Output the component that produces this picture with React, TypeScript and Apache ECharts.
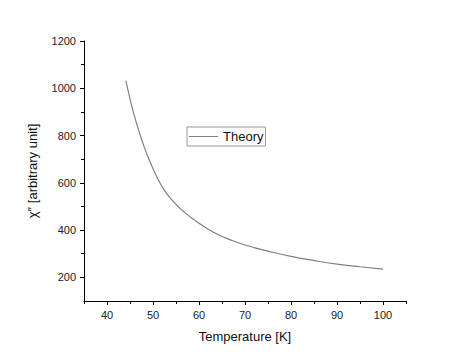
import React, { useEffect, useRef } from "react";
import * as echarts from "echarts";

const temperatures = [44.1, 45, 46, 47, 48, 49, 50, 51, 52, 53, 54, 55, 56, 57, 58, 60, 62, 64, 66, 68, 70, 72, 75, 80, 85, 90, 95, 100];
const chiValues = [1032, 955, 880, 815, 757, 705, 660, 618, 583, 554, 530, 509, 490, 473, 457, 429, 404, 383, 365, 350, 337, 326, 311, 289, 271, 256, 245, 235];
const xMajorTicks = [40, 50, 60, 70, 80, 90, 100];
const xMinorTicks = [35, 45, 55, 65, 75, 85, 95, 105];
const yMajorTicks = [200, 400, 600, 800, 1000, 1200];
const yMinorTicks = [300, 500, 700, 900, 1100];
const seriesName = "Theory";
const xTitle = "Temperature [K]";
const yTitle = "χ\u2033 [arbitrary unit]";

const FONT = "'Liberation Sans', Arial, Helvetica, sans-serif";

export default function App() {
  const ref = useRef<HTMLDivElement>(null);
  useEffect(() => {
    if (!ref.current) return;
    const chart = echarts.init(ref.current, null, { renderer: "svg" });
    const grid = { left: 84, right: 68, top: 41, bottom: 62 };
    chart.setOption({
      animation: false,
      backgroundColor: "#ffffff",
      textStyle: { fontFamily: FONT },
      grid,
      legend: {
        show: true,
        left: 187,
        top: 127,
        orient: "horizontal",
        padding: [3, 2, 3, 2],
        itemWidth: 29,
        itemHeight: 14,
        itemGap: 5,
        borderColor: "#999999",
        borderWidth: 1,
        data: [{ name: seriesName, icon: "path://M0,0 L29,0 L29,1 L0,1 Z" }],
        itemStyle: { color: "#808080" },
        textStyle: { fontSize: 13, color: "#111", fontFamily: FONT, padding: [0, 0, 0, 0] },
      },
      xAxis: [
        {
          type: "value",
          min: 35,
          max: 105,
          name: xTitle,
          nameLocation: "middle",
          nameGap: 29,
          nameTextStyle: { fontSize: 13, color: "#111", fontFamily: FONT },
          axisLine: { show: true, onZero: false, lineStyle: { color: "#000", width: 1 } },
          axisTick: { show: true, customValues: xMajorTicks, length: 4, inside: false, lineStyle: { color: "#000" } },
          axisLabel: {
            show: true,
            customValues: xMajorTicks,
            formatter: (v: number) => String(v),
            fontSize: 11,
            color: "#222",
            margin: 8,
            fontFamily: FONT,
          },
          splitLine: { show: false },
        },
        {
          type: "value",
          min: 35,
          max: 105,
          position: "bottom",
          axisLine: { show: false, onZero: false },
          axisTick: { show: true, customValues: xMinorTicks, length: 3, inside: false, lineStyle: { color: "#000" } },
          axisLabel: { show: false },
          splitLine: { show: false },
        },
      ],
      yAxis: [
        {
          type: "value",
          min: 100,
          max: 1200,
          name: yTitle,
          nameLocation: "middle",
          nameGap: 45,
          nameTextStyle: { fontSize: 13, color: "#111", fontFamily: FONT },
          axisLine: { show: true, onZero: false, lineStyle: { color: "#000", width: 1 } },
          axisTick: { show: true, customValues: yMajorTicks, length: 4, inside: false, lineStyle: { color: "#000" } },
          axisLabel: {
            show: true,
            customValues: yMajorTicks,
            formatter: (v: number) => String(v),
            fontSize: 11,
            color: "#222",
            margin: 8,
            fontFamily: FONT,
          },
          splitLine: { show: false },
        },
        {
          type: "value",
          min: 100,
          max: 1200,
          position: "left",
          axisLine: { show: false, onZero: false },
          axisTick: { show: true, customValues: yMinorTicks, length: 3, inside: false, lineStyle: { color: "#000" } },
          axisLabel: { show: false },
          splitLine: { show: false },
        },
      ],
      series: [
        {
          name: seriesName,
          type: "line",
          xAxisIndex: 0,
          yAxisIndex: 0,
          data: temperatures.map((t, i) => [t, chiValues[i]]),
          smooth: 0.5,
          showSymbol: false,
          symbol: "none",
          lineStyle: { color: "#808080", width: 1.2 },
          itemStyle: { color: "#808080" },
        },
      ],
    });
    return () => chart.dispose();
  }, []);
  return <div ref={ref} style={{ width: 474, height: 363, margin: -8 }} />;
}
